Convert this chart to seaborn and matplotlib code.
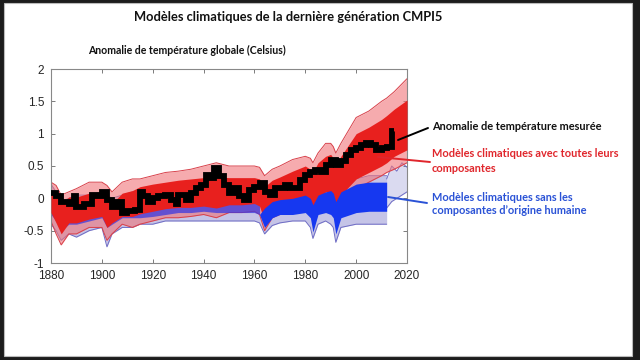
import matplotlib
matplotlib.use("Agg")
import matplotlib.pyplot as plt
from matplotlib.patches import Rectangle
import seaborn as sns
import numpy as np

# sampled years for the model envelopes (denser around the volcanic dips)
years = [1880, 1882, 1884, 1887, 1890, 1895, 1900, 1902, 1904, 1908, 1912, 1915,
         1920, 1925, 1930, 1935, 1940, 1945, 1950, 1955, 1960, 1962, 1964, 1967,
         1970, 1975, 1980, 1982, 1983, 1985, 1988, 1990, 1991, 1992, 1994, 2000,
         2005, 2010, 2012, 2015, 2020]

# models with all forcings (red): outer spread and dense core
red_hi = [0.25, 0.20, 0.05, 0.10, 0.15, 0.25, 0.25, 0.20, 0.10, 0.25, 0.30, 0.30,
          0.35, 0.40, 0.42, 0.45, 0.50, 0.55, 0.50, 0.50, 0.50, 0.48, 0.35, 0.45,
          0.50, 0.60, 0.65, 0.62, 0.55, 0.70, 0.85, 0.85, 0.80, 0.70, 0.85, 1.25,
          1.35, 1.50, 1.55, 1.65, 1.85]
red_lo = [-0.35, -0.55, -0.72, -0.55, -0.55, -0.45, -0.45, -0.65, -0.55, -0.40, -0.45, -0.40,
          -0.35, -0.30, -0.30, -0.28, -0.25, -0.30, -0.22, -0.22, -0.20, -0.25, -0.50, -0.30,
          -0.25, -0.20, -0.15, -0.25, -0.35, -0.20, -0.05, -0.05, -0.10, -0.30, -0.05, 0.15,
          0.25, 0.35, 0.40, 0.45, 0.55]
red_core_hi = [0.12, 0.08, -0.08, 0.02, 0.02, 0.08, 0.10, 0.02, -0.08, 0.08, 0.12, 0.18,
               0.22, 0.25, 0.28, 0.30, 0.32, 0.33, 0.32, 0.32, 0.32, 0.30, 0.18, 0.28,
               0.33, 0.42, 0.50, 0.45, 0.40, 0.55, 0.65, 0.68, 0.62, 0.50, 0.65, 1.00,
               1.10, 1.22, 1.28, 1.38, 1.52]
red_core_lo = [-0.22, -0.38, -0.55, -0.38, -0.38, -0.32, -0.28, -0.45, -0.38, -0.28, -0.28, -0.24,
               -0.20, -0.16, -0.14, -0.14, -0.12, -0.15, -0.10, -0.10, -0.08, -0.12, -0.35, -0.15,
               -0.12, -0.05, 0.00, -0.08, -0.15, 0.00, 0.10, 0.10, 0.05, -0.10, 0.05, 0.30,
               0.40, 0.50, 0.55, 0.65, 0.75]

# natural forcings only (blue), runs stop in 2012
blue_years = years[:39]
blue_hi = [0.22, 0.10, -0.05, 0.00, 0.05, 0.05, 0.10, 0.05, 0.00, 0.05, 0.10, 0.10,
           0.10, 0.12, 0.15, 0.15, 0.18, 0.15, 0.12, 0.10, 0.10, 0.08, 0.00, 0.08,
           0.10, 0.10, 0.15, 0.10, 0.05, 0.15, 0.20, 0.20, 0.15, 0.00, 0.15, 0.30,
           0.35, 0.35, 0.35]
blue_lo = [-0.40, -0.50, -0.65, -0.55, -0.60, -0.50, -0.45, -0.75, -0.55, -0.45, -0.45, -0.40,
           -0.40, -0.35, -0.35, -0.35, -0.35, -0.35, -0.35, -0.35, -0.35, -0.38, -0.55, -0.42,
           -0.38, -0.35, -0.35, -0.45, -0.62, -0.40, -0.35, -0.40, -0.45, -0.68, -0.45, -0.40,
           -0.40, -0.40, -0.40]
blue_core_hi = [0.05, -0.05, -0.20, -0.10, -0.10, -0.05, -0.05, -0.15, -0.15, -0.10, -0.05, -0.05,
                -0.05, -0.03, 0.00, 0.00, 0.02, 0.00, 0.00, -0.02, -0.02, -0.05, -0.15, -0.05,
                -0.02, 0.00, 0.05, 0.00, -0.10, 0.05, 0.10, 0.12, 0.08, -0.05, 0.10, 0.22,
                0.25, 0.25, 0.25]
blue_core_lo = [-0.25, -0.35, -0.50, -0.40, -0.40, -0.35, -0.30, -0.45, -0.40, -0.30, -0.30, -0.30,
                -0.28, -0.25, -0.22, -0.22, -0.20, -0.22, -0.22, -0.22, -0.22, -0.25, -0.45, -0.30,
                -0.25, -0.25, -0.22, -0.30, -0.52, -0.25, -0.22, -0.25, -0.30, -0.55, -0.30, -0.22,
                -0.20, -0.20, -0.20]

# a few natural-only runs that continue past 2012
ext_years = [2012, 2014, 2016, 2018, 2020]
ext_hi = [0.30, 0.50, 0.42, 0.55, 0.48]
ext_lo = [-0.15, -0.05, 0.00, 0.05, 0.10]

# observed anomaly (stepped black line)
obs_years = [1880, 1882, 1884, 1887, 1889, 1890, 1893, 1896, 1898, 1900, 1902, 1904,
             1906, 1908, 1910, 1913, 1915, 1916, 1918, 1920, 1922, 1925, 1927, 1929,
             1930, 1933, 1935, 1937, 1939, 1941, 1943, 1944, 1946, 1948, 1950, 1952,
             1954, 1956, 1958, 1960, 1962, 1964, 1966, 1968, 1970, 1972, 1974, 1976,
             1978, 1980, 1982, 1984, 1986, 1988, 1990, 1992, 1994, 1996, 1998, 2000,
             2002, 2004, 2006, 2008, 2010, 2012, 2014, 2015]
obs_vals = [0.08, 0.03, -0.05, -0.08, 0.04, -0.13, -0.08, 0.05, 0.03, 0.10, -0.03, -0.13,
            -0.05, -0.23, -0.20, -0.18, 0.10, 0.03, -0.05, 0.00, 0.03, 0.05, -0.03, -0.08,
            0.05, -0.03, 0.08, 0.16, 0.21, 0.36, 0.31, 0.47, 0.34, 0.20, 0.08, 0.16,
            0.03, -0.03, 0.13, 0.18, 0.23, 0.10, 0.05, 0.16, 0.16, 0.21, 0.16, 0.16,
            0.28, 0.36, 0.41, 0.44, 0.41, 0.52, 0.60, 0.52, 0.57, 0.67, 0.75, 0.78,
            0.83, 0.85, 0.83, 0.75, 0.78, 0.80, 1.04, 1.04]

RED = "#e8201e"
RED_LIGHT = "#f07478"
BLUE = "#1638f0"
PURPLE = "#6e6cc4"

sns.set_style("white")
plt.rcParams["font.family"] = ["Liberation Sans", "DejaVu Sans"]

W, H = 640, 360
fig = plt.figure(figsize=(W / 100, H / 100), dpi=100, facecolor="#1c1c1c")
fig.patches.append(Rectangle((4 / W, 4 / H), 628 / W, 353 / H, transform=fig.transFigure,
                             facecolor="white", edgecolor="#bbbbbb", lw=0.8, zorder=-5))

ax = fig.add_axes([51 / W, 97 / H, 356 / W, 194 / H])
ax.set_facecolor("white")

yr = np.array(years)
byr = np.array(blue_years)
split = byr <= 1962

# envelopes
ax.fill_between(byr, blue_lo, blue_hi, color=PURPLE, alpha=0.4, lw=0, zorder=1)
ax.fill_between(ext_years, ext_lo, ext_hi, color=PURPLE, alpha=0.25, lw=0, zorder=1)
ax.fill_between(yr, red_lo, red_hi, color=RED_LIGHT, alpha=0.6, lw=0, zorder=2)
ax.fill_between(byr, blue_core_lo, blue_core_hi, where=split, color="#3a3ae0", alpha=0.75,
                lw=0, zorder=2.5)
ax.fill_between(yr, red_core_lo, red_core_hi, color=RED, lw=0, zorder=3)
ax.fill_between(byr, blue_core_lo, blue_core_hi, where=~split, color=BLUE, lw=0,
                zorder=3.5, interpolate=True)

# thin edge lines to mimic individual runs
for ys in (blue_hi, blue_lo):
    sns.lineplot(x=blue_years, y=ys, color=PURPLE, lw=0.7, ax=ax, zorder=1.5)
for ys in (ext_hi, ext_lo):
    sns.lineplot(x=ext_years, y=ys, color=PURPLE, lw=0.7, ax=ax, zorder=1.5)
for ys in (red_hi, red_lo):
    sns.lineplot(x=years, y=ys, color="#d8404a", lw=0.7, ax=ax, zorder=2.2)

# observations
ax.step(obs_years, obs_vals, where="post", color="black", lw=4.2,
        solid_joinstyle="miter", solid_capstyle="butt", zorder=5)

ax.set_xlim(1880, 2020)
ax.set_ylim(-1, 2)
ax.set_xticks(range(1880, 2021, 20))
ax.set_yticks([-1, -0.5, 0, 0.5, 1, 1.5, 2])
ax.set_yticklabels(["-1", "-0.5", "0", "0.5", "1", "1.5", "2"])
ax.tick_params(direction="in", length=3, width=0.6, color="#666666", labelsize=8.5,
               top=True, right=True, bottom=True, left=True, pad=5)
for s in ax.spines.values():
    s.set_color("#888888")
    s.set_linewidth(0.8)
ax.set_xlabel("")
ax.set_ylabel("")

def ftext(x, y, s, **kw):
    fig.text(x / W, 1 - y / H, s, family=["Lato", "DejaVu Sans"], fontweight="bold",
             va="center", **kw)

ftext(288, 17, "Modèles climatiques de la dernière génération CMPI5", ha="center",
      fontsize=9.3, color="#111111")
ftext(88, 50, "Anomalie de température globale (Celsius)", ha="left", fontsize=7.6,
      color="#111111")

ftext(432, 126, "Anomalie de température mesurée", ha="left", fontsize=7.9, color="#111111")
ftext(432, 153, "Modèles climatiques avec toutes leurs", ha="left", fontsize=7.9,
      color="#e0262c")
ftext(432, 168, "composantes", ha="left", fontsize=7.9, color="#e0262c")
ftext(432, 197, "Modèles climatiques sans les", ha="left", fontsize=7.9, color="#2a52d6")
ftext(432, 211, "composantes d\u2019origine humaine", ha="left", fontsize=7.9,
      color="#2a52d6")

# pointer lines
for (x0, y0, x1, y1, c) in [(398, 140, 428, 128, "black"),
                            (378, 157, 430, 162, "#e0262c"),
                            (388, 197, 427, 203, "#2a52d6")]:
    fig.add_artist(plt.Line2D([x0 / W, x1 / W], [1 - y0 / H, 1 - y1 / H],
                              transform=fig.transFigure, color=c, lw=1.4, zorder=10))

fig.savefig("out.png", dpi=100, facecolor=fig.get_facecolor())
